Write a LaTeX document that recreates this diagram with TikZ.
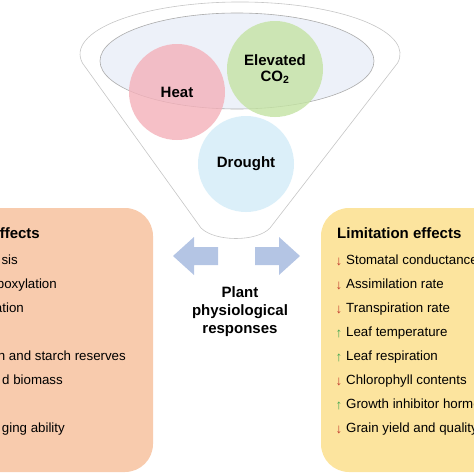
\documentclass[tikz,border=0pt]{standalone}
\usepackage{fontspec}
\setmainfont{Liberation Sans}
\usepackage{tikz}

\definecolor{heatpink}{HTML}{F4B1BA}
\definecolor{co2green}{HTML}{C4E3A3}
\definecolor{droughtblue}{HTML}{D2ECF8}
\definecolor{rimfill}{HTML}{EDF1F9}
\definecolor{leftbox}{HTML}{F8CBAD}
\definecolor{rightbox}{HTML}{FCE49E}
\definecolor{flowblue}{HTML}{B4C5E4}
\definecolor{downred}{HTML}{C0392B}
\definecolor{upgreen}{HTML}{3DA64F}

\newcommand{\dnarr}{\textcolor{downred}{↓}}
\newcommand{\uparr}{\textcolor{upgreen}{↑}}

\begin{document}
\begin{tikzpicture}
		[
			x=1pt, y=-1pt,
			factor/.style = {circle, align=center, minimum size=96pt, inner sep=0pt, fill opacity=0.8, text opacity=1, font=\bfseries\fontsize{15}{16.5}\selectfont},
			effect/.style = {inner sep=0pt, font=\fontsize{13.3}{16}\selectfont},
			heading/.style = {inner sep=0pt, font=\bfseries\fontsize{15}{18}\selectfont},
			funnel/.style = {draw=gray!45, line width=0.6pt, fill=white},
		]
		\useasboundingbox (0,0) rectangle (474,474);
		\clip (0,0) rectangle (474,474);

		% effect boxes
		\fill[leftbox, rounded corners=28pt] (-40,208) rectangle (153,472);
		\fill[rightbox, rounded corners=28pt] (321,208) rectangle (520,472);

		% funnel
		\draw[funnel] (82.4,63.0) -- (201,228) .. controls (215,242) and (257,242) .. (270,228)
			-- (397.6,63.0) arc[start angle=10, end angle=-190, x radius=160, y radius=52] -- cycle;
		\draw[draw=gray!65, line width=0.6pt, fill=rimfill] (237,61) ellipse (137 and 48);

		% stress factors
		\node[factor, fill=heatpink] (heat) 	at ( 177,  92 ) {Heat};
		\node[factor, fill=co2green] (co2) 	at ( 275,  69 ) {Elevated\\CO\textsubscript{2}};
		\node[factor, fill=droughtblue] (drought) 	at ( 246, 164 ) {Drought};

		% flow arrows
		\fill[flowblue] (173,256) -- (194,237) -- (194,247) -- (218,247) -- (218,265) -- (194,265) -- (194,275) -- cycle;
		\fill[flowblue] (300,256) -- (279,237) -- (279,247) -- (255,247) -- (255,265) -- (279,265) -- (279,275) -- cycle;

		\node[heading, align=center] (resp) at ( 240, 312 ) {Plant\\physiological\\responses};

		% left box
		\node[heading, anchor=mid east] (lefttitle) at ( 40, 236 ) {ffects};
		\foreach \y/\x/\t [count=\i] in {262/18/sis, 286/57/boxylation, 310/24/ation, 358/126/n and starch reserves, 382/63/d biomass, 430/65/ging ability}
		\node[effect, anchor=mid east] (adapt\i) at (\x,\y) {\t};

		% right box
		\node[heading, anchor=mid west] (righttitle) at ( 337, 236 ) {Limitation effects};
		\foreach \y/\a/\t [count=\i] in {262/\dnarr/Stomatal conductance, 286/\dnarr/Assimilation rate, 310/\dnarr/Transpiration rate, 334/\uparr/Leaf temperature, 358/\uparr/Leaf respiration, 382/\dnarr/Chlorophyll contents, 406/\uparr/Growth inhibitor hormones, 430/\dnarr/Grain yield and quality}
		{
			\node[effect] (sign\i) at (339,\y) {\a};
			\node[effect, anchor=mid west] (limit\i) at (346,\y) {\t};
		}

		\end{tikzpicture}
\end{document}
